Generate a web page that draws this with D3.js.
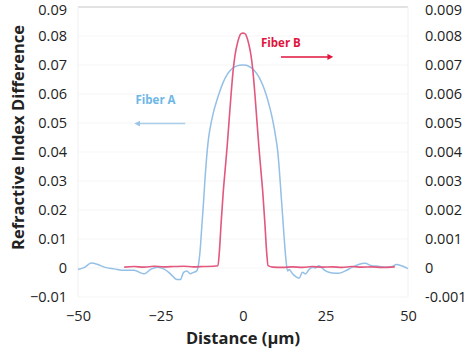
<!DOCTYPE html>
<html>
<head>
<meta charset="utf-8">
<script src="https://cdn.jsdelivr.net/npm/d3@7"></script>
<style>
  body { margin: 0; background: #fff; }
  text { font-family: "Open Sans", sans-serif; }
</style>
</head>
<body>
<div id="container"></div>
<script>
let w = 474;
let h = 351;

// x ticks and y ticks (left: 0.01 steps, right: 0.001 steps)
let xTicks = [-50, -25, 0, 25, 50];
let yTicksLeft = [-0.01, 0, 0.01, 0.02, 0.03, 0.04, 0.05, 0.06, 0.07, 0.08, 0.09];
let yTicksRight = ["-0.001", "0", "0.001", "0.002", "0.003", "0.004", "0.005", "0.006", "0.007", "0.008", "0.009"];

// Fiber A profile (distance in µm, index difference)
let fiberA_x = [-50, -48, -46, -44, -42, -39, -36, -33, -30, -28, -26, -24, -22, -20, -19, -18, -17, -16, -15, -14,
  -13.6, -13, -12.5, -12, -11.5, -11, -10.5, -10, -9, -8, -7, -6, -5, -4, -3, -2, -1, 0, 1, 2, 3, 4, 5, 6, 7, 8, 9, 10, 10.5, 11, 11.5, 12, 12.5, 13, 13.5,
  14, 15, 16, 17, 18, 19, 20, 21, 22, 23, 25, 27, 29, 31, 33, 35, 37, 39, 41, 43, 45, 46.5, 48, 50];
let fiberA_y = [-0.0005, 0.0002, 0.0017, 0.0012, 0.0003, -0.0003, -0.0008, -0.0008, -0.002, -0.0005, 0.0003, -0.0003, -0.002, -0.004, -0.004, -0.0015, -0.001, -0.002, -0.0015, -0.001,
  0.0005, 0.006, 0.014, 0.022, 0.031, 0.0385, 0.0442, 0.048, 0.0535, 0.0575, 0.061, 0.064, 0.0663, 0.0679, 0.069, 0.0696, 0.0699, 0.07, 0.0699, 0.0694, 0.0686, 0.0673, 0.0655, 0.063, 0.0598, 0.0558, 0.051, 0.0445, 0.0405, 0.034, 0.026, 0.018, 0.01, 0.003, -0.001,
  -0.0005, -0.002, -0.003, -0.0035, -0.0015, -0.002, -0.0005, 0.0003, 0, 0.0008, -0.001, -0.0017, -0.0018, -0.001, 0.0002, 0.0012, 0.0016, 0.0008, 0.0006, 0.0003, 0.0004, 0.0012, 0.0008, -0.0002];

// Fiber B profile
let fiberB_x = [-36, -33, -30, -27, -24, -21, -18, -15, -12, -9, -7.6, -7.2, -6.6, -6, -5.4, -4.8, -4.2, -3.6, -3, -2.4, -1.8, -1.2, -0.6, 0,
  0.6, 1.2, 1.8, 2.4, 3, 3.6, 4.2, 4.8, 5.4, 6, 6.6, 7.2, 7.6, 9, 12, 15, 18, 21, 24, 27, 30, 33, 36, 39, 42, 46];
let fiberB_y = [0.0003, 0.0005, 0.0003, 0.0006, 0.0004, 0.0005, 0.0006, 0.0004, 0.0005, 0.0006, 0.0008, 0.005, 0.016, 0.026, 0.034, 0.042, 0.051, 0.06, 0.068, 0.0735, 0.077, 0.0795, 0.0808, 0.081,
  0.0808, 0.0795, 0.077, 0.0735, 0.068, 0.06, 0.051, 0.042, 0.034, 0.026, 0.016, 0.005, 0.0008, 0.0003, 0.0002, 0.0004, 0.0002, 0.0005, 0.0003, 0.0004, 0.0002, 0.0005, 0.0003, 0.0004, 0.0002, 0.0004];

let padLeft = 78, padRight = 408, padTop = 7, padBottom = 297;

let viz = d3.select("#container")
  .append("svg")
  .attr("width", w)
  .attr("height", h)
  .style("background-color", "#fff");

let xScale = d3.scaleLinear().domain([-50, 50]).range([padLeft, padRight]);
let yScale = d3.scaleLinear().domain([-0.01, 0.09]).range([padBottom, padTop]);
let yScaleR = d3.scaleLinear().domain([-0.001, 0.009]).range([padBottom, padTop]);

// gridlines
viz.append("g")
  .selectAll("line")
  .data(yTicksLeft)
  .enter()
  .append("line")
  .attr("x1", padLeft)
  .attr("x2", padRight)
  .attr("y1", d => yScale(d))
  .attr("y2", d => yScale(d))
  .attr("stroke", (d, i) => i == yTicksLeft.length - 1 ? "#d9d9d9" : "#f5f5f5")
  .attr("stroke-width", (d, i) => i == yTicksLeft.length - 1 ? 1.5 : 1);

viz.append("line").attr("x1", padLeft).attr("x2", padLeft).attr("y1", padTop).attr("y2", padBottom).attr("stroke", "#f0f0f0");
viz.append("line").attr("x1", padRight).attr("x2", padRight).attr("y1", padTop).attr("y2", padBottom).attr("stroke", "#f0f0f0");

// axes
let xAxis = viz.append("g")
  .attr("transform", `translate(0, ${padBottom})`)
  .call(d3.axisBottom(xScale).tickValues(xTicks).tickSize(0).tickPadding(14));

let yAxisL = viz.append("g")
  .attr("transform", `translate(${padLeft}, 0)`)
  .call(d3.axisLeft(yScale).tickValues(yTicksLeft).tickFormat(d => d == 0 ? "0" : d3.format(".2f")(d)).tickSize(0).tickPadding(11));

let yAxisR = viz.append("g")
  .attr("transform", `translate(${padRight}, 0)`)
  .call(d3.axisRight(yScaleR).tickValues(yTicksRight.map(Number)).tickFormat((d, i) => yTicksRight[i]).tickSize(0).tickPadding(17));

viz.selectAll(".domain").remove();
viz.selectAll(".tick text")
  .attr("font-family", "Open Sans, sans-serif")
  .attr("font-size", "14.5px")
  .attr("fill", "#222");

// keep the top labels inside the picture
yAxisL.selectAll(".tick:last-of-type text").attr("dy", "0.5em");
yAxisR.selectAll(".tick:last-of-type text").attr("dy", "0.5em");

// lines
let line = d3.line().x(d => xScale(d[0])).y(d => yScale(d[1])).curve(d3.curveMonotoneX);

viz.append("path")
  .datum(d3.zip(fiberA_x, fiberA_y))
  .attr("d", line)
  .attr("fill", "none")
  .attr("stroke", "#94bfe6")
  .attr("stroke-width", 1.5);

viz.append("path")
  .datum(d3.zip(fiberB_x, fiberB_y))
  .attr("d", line)
  .attr("fill", "none")
  .attr("stroke", "#e2587f")
  .attr("stroke-width", 1.6);

// annotations
let defs = viz.append("defs");
defs.append("marker").attr("id", "headA").attr("viewBox", "0 0 10 10").attr("refX", 5).attr("refY", 5)
  .attr("markerWidth", 4).attr("markerHeight", 4).attr("orient", "auto")
  .append("path").attr("d", "M0,0 L10,5 L0,10 z").attr("fill", "#9cc3e6");
defs.append("marker").attr("id", "headB").attr("viewBox", "0 0 10 10").attr("refX", 5).attr("refY", 5)
  .attr("markerWidth", 4).attr("markerHeight", 4).attr("orient", "auto")
  .append("path").attr("d", "M0,0 L10,5 L0,10 z").attr("fill", "#e0143c");

viz.append("text")
  .text("Fiber A")
  .attr("x", xScale(-26.5))
  .attr("y", yScale(0.0565))
  .attr("text-anchor", "middle")
  .attr("font-size", "11.5px")
  .attr("font-weight", "bold")
  .attr("fill", "#6db6e6");
viz.append("line")
  .attr("x1", xScale(-17.5)).attr("x2", xScale(-32))
  .attr("y1", yScale(0.0498)).attr("y2", yScale(0.0498))
  .attr("stroke", "#a9cde9").attr("stroke-width", 1.5)
  .attr("marker-end", "url(#headA)");

viz.append("text")
  .text("Fiber B")
  .attr("x", xScale(11.5))
  .attr("y", yScale(0.0762))
  .attr("text-anchor", "middle")
  .attr("font-size", "11.5px")
  .attr("font-weight", "bold")
  .attr("fill", "#e0143c");
viz.append("line")
  .attr("x1", xScale(11.5)).attr("x2", xScale(26.5))
  .attr("y1", yScale(0.0728)).attr("y2", yScale(0.0728))
  .attr("stroke", "#e0143c").attr("stroke-width", 1.5)
  .attr("marker-end", "url(#headB)");

// axis titles
viz.append("text")
  .text("Distance (\u03bcm)")
  .attr("x", (padLeft + padRight) / 2)
  .attr("y", 344)
  .attr("text-anchor", "middle")
  .attr("font-size", "16.5px")
  .attr("font-weight", "bold")
  .attr("fill", "#222");

viz.append("text")
  .text("Refractive Index Difference")
  .attr("transform", `translate(24, ${(13 + 262) / 2}) rotate(-90)`)
  .attr("text-anchor", "middle")
  .attr("font-size", "16.5px")
  .attr("font-weight", "bold")
  .attr("fill", "#222");
</script>
</body>
</html>
